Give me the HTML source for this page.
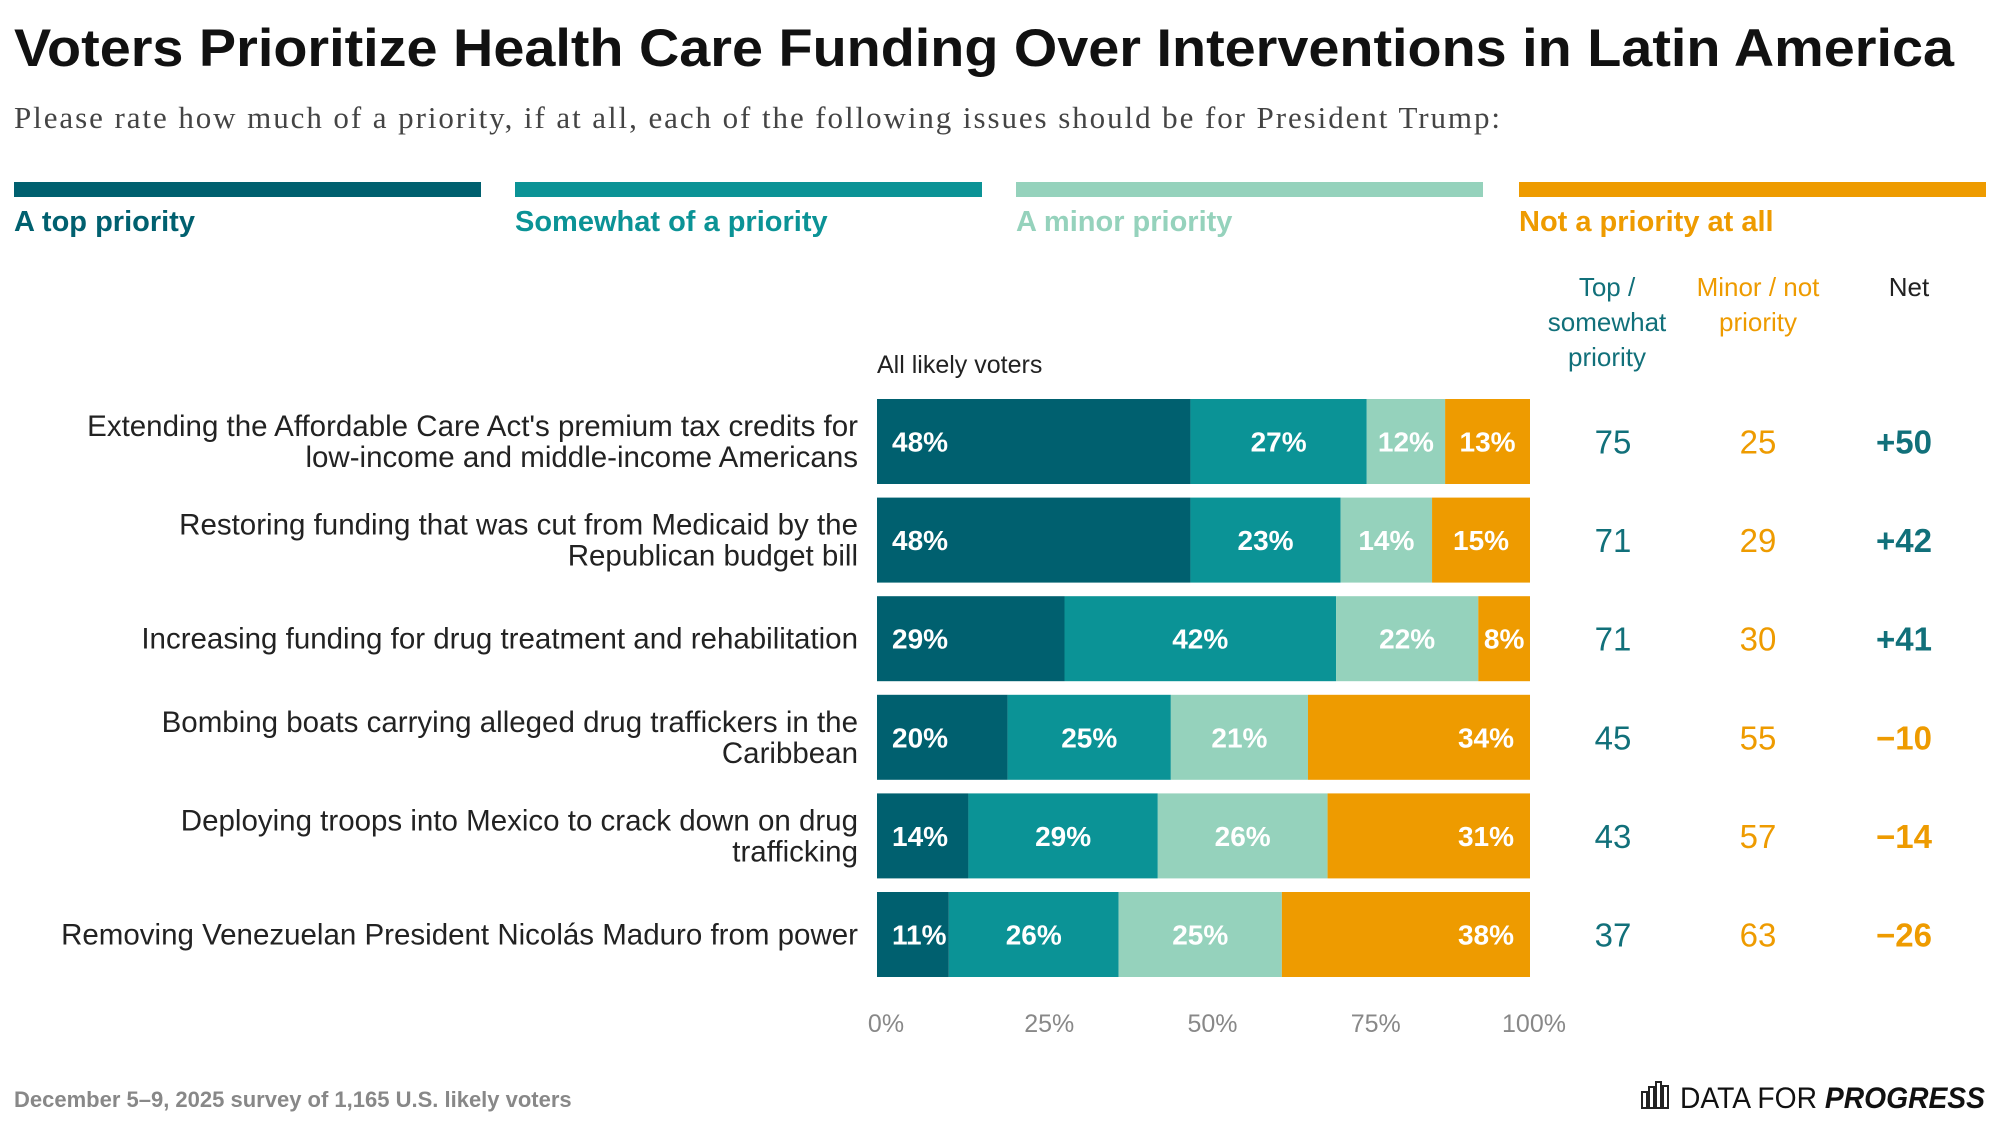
<!DOCTYPE html>
<html><head><meta charset="utf-8">
<style>
body{margin:0;background:#fff;width:1999px;height:1130px;overflow:hidden;font-family:"Liberation Sans",sans-serif;}
</style></head>
<body>
<svg id="c" width="1999" height="1130" xmlns="http://www.w3.org/2000/svg">
<text x="14" y="66" font-size="53" font-weight="bold" fill="#111" textLength="1940" lengthAdjust="spacingAndGlyphs">Voters Prioritize Health Care Funding Over Interventions in Latin America</text>
<text x="14" y="128" font-size="31" fill="#444" font-family="Liberation Serif, serif" textLength="1486" lengthAdjust="spacing">Please rate how much of a priority, if at all, each of the following issues should be for President Trump:</text>
<g id="legend"></g>
<text x="877" y="373" font-size="25" fill="#222">All likely voters</text>
<g font-size="26" text-anchor="middle">
<text x="1607" y="296" fill="#11707a">Top /</text><text x="1607" y="331" fill="#11707a">somewhat</text><text x="1607" y="366" fill="#11707a">priority</text>
<text x="1758" y="296" fill="#ee9b00">Minor / not</text><text x="1758" y="331" fill="#ee9b00">priority</text>
<text x="1909" y="296" fill="#222">Net</text>
</g>
<g id="bars"></g>
<g id="axis"></g>
<text x="14" y="1107" font-size="22" font-weight="bold" fill="#888">December 5–9, 2025 survey of 1,165 U.S. likely voters</text>
<g>
<rect x="1642" y="1092" width="5" height="16" fill="none" stroke="#222" stroke-width="2"/>
<rect x="1649" y="1087" width="5" height="21" fill="none" stroke="#222" stroke-width="2"/>
<rect x="1656" y="1082" width="5" height="26" fill="none" stroke="#222" stroke-width="2"/>
<rect x="1663" y="1086" width="5" height="22" fill="none" stroke="#222" stroke-width="2"/>
<text x="1985" y="1108" text-anchor="end" font-size="30" fill="#111" textLength="305" lengthAdjust="spacingAndGlyphs"><tspan>DATA FOR </tspan><tspan font-weight="bold" font-style="italic">PROGRESS</tspan></text>
</g>
</svg>
<script>
const categories=[["Extending the Affordable Care Act's premium tax credits for","low-income and middle-income Americans"],["Restoring funding that was cut from Medicaid by the","Republican budget bill"],["Increasing funding for drug treatment and rehabilitation"],["Bombing boats carrying alleged drug traffickers in the","Caribbean"],["Deploying troops into Mexico to crack down on drug","trafficking"],["Removing Venezuelan President Nicolás Maduro from power"]];
const topPriority=[48,48,29,20,14,11];
const somewhatPriority=[27,23,42,25,29,26];
const minorPriority=[12,14,22,21,26,25];
const notPriority=[13,15,8,34,31,38];
const topSomewhat=[75,71,71,45,43,37];
const minorNot=[25,29,30,55,57,63];
const net=[50,42,41,-10,-14,-26];
const seriesNames=["A top priority","Somewhat of a priority","A minor priority","Not a priority at all"];
const ticks=[0,25,50,75,100];
const colors=["#00606f","#0b9396","#95d2bc","#ee9b00"];
const NS="http://www.w3.org/2000/svg";
const X0=877,X1=1530,x=v=>X0+(X1-X0)*v/100;
const rowY=i=>399+i*98.6, BH=85;
function el(t,a,p){const e=document.createElementNS(NS,t);for(const k in a)e.setAttribute(k,a[k]);p.appendChild(e);return e;}
const lg=document.getElementById('legend');
const lx=[14,515,1016,1519];
seriesNames.forEach((n,i)=>{
  const r=el('rect',{x:lx[i],y:182,width:467,height:15,fill:colors[i]},lg);
  
  
  const t=el('text',{x:lx[i],y:231,'font-size':29,'font-weight':'bold',fill:i==1?'#0b9396':i==0?'#00606f':colors[i]},lg);
  t.textContent=n;
  
  
});
const bg=document.getElementById('bars');
const series=[topPriority,somewhatPriority,minorPriority,notPriority];
categories.forEach((lines,i)=>{
  const y=rowY(i),cy=y+BH/2;
  const lab=el('text',{x:858,'font-size':29.5,fill:'#222','text-anchor':'end'},bg);
  
  
  lines.forEach((l,j)=>{const ts=el('tspan',{x:858,y:cy+10+(j-(lines.length-1)/2)*31},lab);ts.textContent=l;});
  const total=series.reduce((s,a)=>s+a[i],0);
  const sx=v=>x(v*100/total);
  let acc=0;
  series.forEach((s,k)=>{
    const v=s[i];
    const r=el('rect',{x:sx(acc),y:y,width:sx(acc+v)-sx(acc),height:BH,fill:colors[k]},bg);
    
    
    let tx,anc;
    if(k==0){tx=sx(acc)+15;anc='start';}
    else if(k==3&&v>20){tx=sx(acc+v)-16;anc='end';}
    else{tx=(sx(acc)+sx(acc+v))/2;anc='middle';}
    const t=el('text',{x:tx,y:cy+10,'font-size':28,'font-weight':'bold',fill:'#fff','text-anchor':anc},bg);
    t.textContent=v+'%';
    
    
    acc+=v;
  });
  const a=el('text',{x:1613,y:cy+12,'font-size':33,fill:'#11707a','text-anchor':'middle'},bg);
  a.textContent=topSomewhat[i];
  
  
  const b=el('text',{x:1758,y:cy+12,'font-size':33,fill:'#ee9b00','text-anchor':'middle'},bg);
  b.textContent=minorNot[i];
  
  
  const n=net[i];
  const c=el('text',{x:1904,y:cy+12,'font-size':33,'font-weight':'bold',fill:n>=0?'#11707a':'#ee9b00','text-anchor':'middle'},bg);
  c.textContent=(n>=0?'+':'−')+Math.abs(n);
  
  
});
const ax=document.getElementById('axis');
ticks.forEach(t=>{
  const e=el('text',{x:x(t)+(t==100?4:9),y:1032,'font-size':25,fill:'#888','text-anchor':'middle'},ax);
  e.textContent=t+'%';
  
  
});
</script>
</body></html>
